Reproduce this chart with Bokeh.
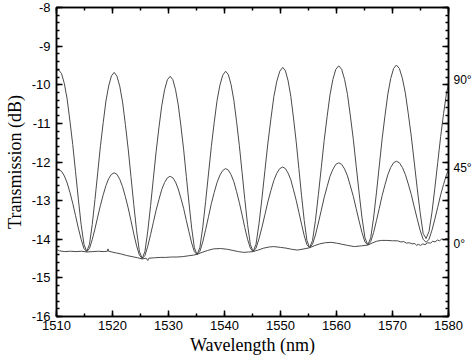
from bokeh.plotting import figure
from bokeh.models import (LinearAxis, SingleIntervalTicker, FixedTicker, Range1d,
                          PrintfTickFormatter, CustomJSTickFormatter)
from bokeh.embed import file_html
from bokeh.resources import INLINE

# Shared wavelength grid for the 90 and 45 degree traces (nm)
wl_mod = [1510.0, 1510.4, 1510.9, 1511.4, 1511.9, 1512.4, 1512.9, 1513.4, 1513.9, 1514.4, 1514.9,
          1515.4, 1515.89, 1516.38, 1516.87, 1517.36, 1517.85, 1518.34, 1518.83, 1519.32, 1519.81,
          1520.3, 1520.8, 1521.3, 1521.8, 1522.3, 1522.8, 1523.3, 1523.8, 1524.3, 1524.8,
          1525.3, 1525.8, 1526.3, 1526.8, 1527.3, 1527.8, 1528.3, 1528.8, 1529.3, 1529.8,
          1530.3, 1530.78, 1531.26, 1531.74, 1532.22, 1532.7, 1533.18, 1533.66, 1534.14, 1534.62,
          1535.1, 1535.61, 1536.12, 1536.63, 1537.14, 1537.65, 1538.16, 1538.67, 1539.18, 1539.69,
          1540.2, 1540.69, 1541.18, 1541.67, 1542.16, 1542.65, 1543.14, 1543.63, 1544.12, 1544.61,
          1545.1, 1545.63, 1546.16, 1546.69, 1547.22, 1547.75, 1548.28, 1548.81, 1549.34, 1549.87,
          1550.4, 1550.88, 1551.36, 1551.84, 1552.32, 1552.8, 1553.28, 1553.76, 1554.24, 1554.72,
          1555.2, 1555.72, 1556.24, 1556.76, 1557.28, 1557.8, 1558.32, 1558.84, 1559.36, 1559.88,
          1560.4, 1560.92, 1561.44, 1561.96, 1562.48, 1563.0, 1563.52, 1564.04, 1564.56, 1565.08,
          1565.6, 1566.11, 1566.62, 1567.13, 1567.64, 1568.15, 1568.66, 1569.17, 1569.68, 1570.19,
          1570.7, 1571.23, 1571.76, 1572.29, 1572.82, 1573.35, 1573.88, 1574.41, 1574.94, 1575.47,
          1576.0, 1576.52, 1577.04, 1577.56, 1578.08, 1578.6, 1579.12, 1579.64, 1580.0]

t90 = [-9.64, -9.62, -9.71, -9.97, -10.37, -10.94, -11.55, -12.25, -12.96, -13.62, -14.13,
       -14.32, -14.13, -13.62, -12.97, -12.28, -11.58, -10.98, -10.42, -10.03, -9.77,
       -9.68, -9.78, -10.04, -10.45, -11.03, -11.66, -12.38, -13.10, -13.78, -14.31,
       -14.50, -14.31, -13.79, -13.13, -12.42, -11.72, -11.10, -10.54, -10.13, -9.87,
       -9.78, -9.87, -10.13, -10.52, -11.07, -11.67, -12.37, -13.06, -13.71, -14.22,
       -14.40, -14.21, -13.69, -13.02, -12.31, -11.60, -10.98, -10.41, -10.01, -9.75,
       -9.65, -9.74, -10.00, -10.40, -10.96, -11.57, -12.27, -12.97, -13.62, -14.13,
       -14.32, -14.13, -13.60, -12.94, -12.22, -11.51, -10.89, -10.31, -9.91, -9.65,
       -9.55, -9.64, -9.90, -10.30, -10.86, -11.47, -12.17, -12.87, -13.52, -14.03,
       -14.22, -14.03, -13.51, -12.85, -12.15, -11.44, -10.83, -10.26, -9.86, -9.60,
       -9.51, -9.60, -9.86, -10.25, -10.81, -11.41, -12.11, -12.80, -13.45, -13.96,
       -14.15, -13.96, -13.45, -12.80, -12.10, -11.40, -10.80, -10.24, -9.84, -9.58,
       -9.49, -9.58, -9.83, -10.21, -10.75, -11.33, -12.00, -12.68, -13.31, -13.85,
       -13.98, -13.80, -13.31, -12.68, -12.01, -11.34, -10.75, -10.22, -9.98]

t45 = [-12.21, -12.20, -12.24, -12.36, -12.54, -12.79, -13.07, -13.39, -13.71, -14.00, -14.24,
       -14.32, -14.24, -14.01, -13.73, -13.42, -13.12, -12.85, -12.61, -12.43, -12.32,
       -12.28, -12.32, -12.45, -12.64, -12.90, -13.19, -13.52, -13.86, -14.17, -14.41,
       -14.50, -14.42, -14.18, -13.88, -13.56, -13.24, -12.97, -12.71, -12.53, -12.41,
       -12.37, -12.41, -12.52, -12.70, -12.94, -13.20, -13.51, -13.81, -14.10, -14.32,
       -14.40, -14.31, -14.07, -13.75, -13.42, -13.08, -12.79, -12.53, -12.34, -12.22,
       -12.17, -12.21, -12.33, -12.51, -12.77, -13.05, -13.37, -13.70, -14.00, -14.23,
       -14.32, -14.23, -13.99, -13.69, -13.36, -13.03, -12.74, -12.48, -12.29, -12.17,
       -12.13, -12.17, -12.29, -12.46, -12.72, -12.99, -13.30, -13.61, -13.91, -14.14,
       -14.22, -14.13, -13.89, -13.58, -13.25, -12.92, -12.64, -12.37, -12.19, -12.06,
       -12.02, -12.06, -12.18, -12.36, -12.62, -12.89, -13.21, -13.53, -13.83, -14.07,
       -14.15, -14.06, -13.83, -13.52, -13.20, -12.87, -12.59, -12.33, -12.14, -12.02,
       -11.98, -12.02, -12.14, -12.32, -12.57, -12.84, -13.16, -13.47, -13.77, -14.00,
       -14.08, -14.00, -13.77, -13.48, -13.17, -12.85, -12.58, -12.33, -12.20]

# 0 degree trace
wl_0 = [1510.0, 1510.5, 1511.5, 1512.5, 1513.5, 1514.5, 1515.4, 1516.5, 1517.5, 1518.5,
        1519.1, 1519.2, 1519.3, 1520.5, 1521.5, 1522.5, 1523.5, 1524.5, 1525.3, 1526.0,
        1526.3, 1526.5, 1527.5, 1528.5, 1529.5, 1530.5, 1531.5, 1532.5, 1533.5, 1534.5,
        1535.1, 1536.0, 1537.0, 1538.0, 1539.3, 1540.5, 1541.5, 1542.5, 1543.4, 1544.3,
        1545.1, 1546.0, 1547.0, 1548.0, 1548.8, 1550.0, 1551.0, 1552.0, 1553.0, 1554.2,
        1555.2, 1556.0, 1557.0, 1558.0, 1559.0, 1560.0, 1561.0, 1562.0, 1563.2, 1564.5,
        1565.6, 1566.5, 1567.2, 1568.0, 1569.0, 1570.0, 1570.9, 1571.5, 1572.0, 1572.5,
        1573.0, 1573.5, 1574.0, 1574.3, 1574.6, 1575.0, 1575.4, 1575.8, 1576.3, 1576.8,
        1577.2, 1577.6, 1578.0, 1578.4, 1578.8, 1579.2, 1579.6, 1580.0]
t0 = [-14.26, -14.30, -14.32, -14.31, -14.32, -14.31, -14.33, -14.32, -14.31, -14.32,
      -14.31, -14.25, -14.31, -14.35, -14.38, -14.42, -14.45, -14.48, -14.51, -14.49,
      -14.55, -14.49, -14.48, -14.47, -14.47, -14.46, -14.46, -14.45, -14.43, -14.41,
      -14.39, -14.34, -14.29, -14.25, -14.24, -14.26, -14.29, -14.32, -14.34, -14.33,
      -14.32, -14.28, -14.23, -14.20, -14.19, -14.21, -14.23, -14.26, -14.28, -14.25,
      -14.22, -14.17, -14.12, -14.09, -14.08, -14.10, -14.13, -14.16, -14.19, -14.17,
      -14.15, -14.09, -14.05, -14.03, -14.03, -14.04, -14.04, -14.07, -14.06, -14.10,
      -14.09, -14.12, -14.11, -14.16, -14.13, -14.16, -14.12, -14.14, -14.09, -14.10,
      -14.05, -14.07, -14.02, -14.04, -13.99, -14.02, -13.98, -14.00]

trace_labels = ["90\u00b0", "45\u00b0", "0\u00b0"]
label_y = [-9.88, -12.15, -14.12]

p = figure(width=474, height=357, output_backend="svg", toolbar_location=None,
           x_range=Range1d(1510, 1580), y_range=Range1d(-16, -8),
           min_border_left=56, min_border_right=4, min_border_top=7, min_border_bottom=40,
           x_axis_label="Wavelength (nm)", y_axis_label="Transmission (dB)")
p.xgrid.visible = False
p.ygrid.visible = False
p.outline_line_color = "black"
p.outline_line_width = 1.5
p.background_fill_color = "white"
p.border_fill_color = "white"

line_col = "#4a4a4a"
p.line(wl_mod, t90, line_color=line_col, line_width=1)
p.line(wl_mod, t45, line_color=line_col, line_width=1)
p.line(wl_0, t0, line_color=line_col, line_width=1)

p.xaxis.ticker = SingleIntervalTicker(interval=10, num_minor_ticks=2)
p.yaxis.ticker = SingleIntervalTicker(interval=1, num_minor_ticks=5)
p.xaxis.formatter = PrintfTickFormatter(format="%d")
p.yaxis.formatter = PrintfTickFormatter(format="%d")

def style(ax, show_labels=True):
    ax.axis_line_color = "black"
    ax.axis_line_width = 1.5
    ax.major_tick_line_color = "black"
    ax.major_tick_line_width = 1.5
    ax.minor_tick_line_color = "black"
    ax.minor_tick_line_width = 1.5
    ax.major_tick_in = 6
    ax.major_tick_out = 0
    ax.minor_tick_in = 3
    ax.minor_tick_out = 0
    ax.major_label_text_font = "Liberation Sans"
    ax.major_label_text_font_size = "13px"
    ax.major_label_text_color = "black"
    ax.axis_label_text_font = "Liberation Serif"
    ax.axis_label_text_font_size = "18px"
    ax.axis_label_text_font_style = "normal"
    ax.axis_label_text_color = "black"
    if not show_labels:
        ax.formatter = CustomJSTickFormatter(code="return '';")
        ax.major_label_standoff = 0

style(p.xaxis[0])
style(p.yaxis[0])
p.xaxis[0].major_label_standoff = 4
p.xaxis[0].axis_label_standoff = 2
p.yaxis[0].major_label_standoff = 6
p.yaxis[0].axis_label_standoff = 4

top = LinearAxis(ticker=SingleIntervalTicker(interval=10, num_minor_ticks=2))
right = LinearAxis(ticker=SingleIntervalTicker(interval=1, num_minor_ticks=5))
style(top, False)
style(right, False)
p.add_layout(top, "above")
p.add_layout(right, "right")

# Trace labels drawn as a tick-less axis to the right of the frame
lab_axis = LinearAxis(ticker=FixedTicker(ticks=label_y, minor_ticks=[]),
                      major_label_overrides=dict(zip(label_y, trace_labels)))
lab_axis.axis_line_color = None
lab_axis.major_tick_line_color = None
lab_axis.minor_tick_line_color = None
lab_axis.major_tick_in = 0
lab_axis.major_tick_out = 0
lab_axis.major_label_standoff = 5
lab_axis.major_label_text_font = "Liberation Sans"
lab_axis.major_label_text_font_size = "12px"
lab_axis.major_label_text_color = "black"
p.add_layout(lab_axis, "right")

open("out.html", "w").write(file_html(p, INLINE))
